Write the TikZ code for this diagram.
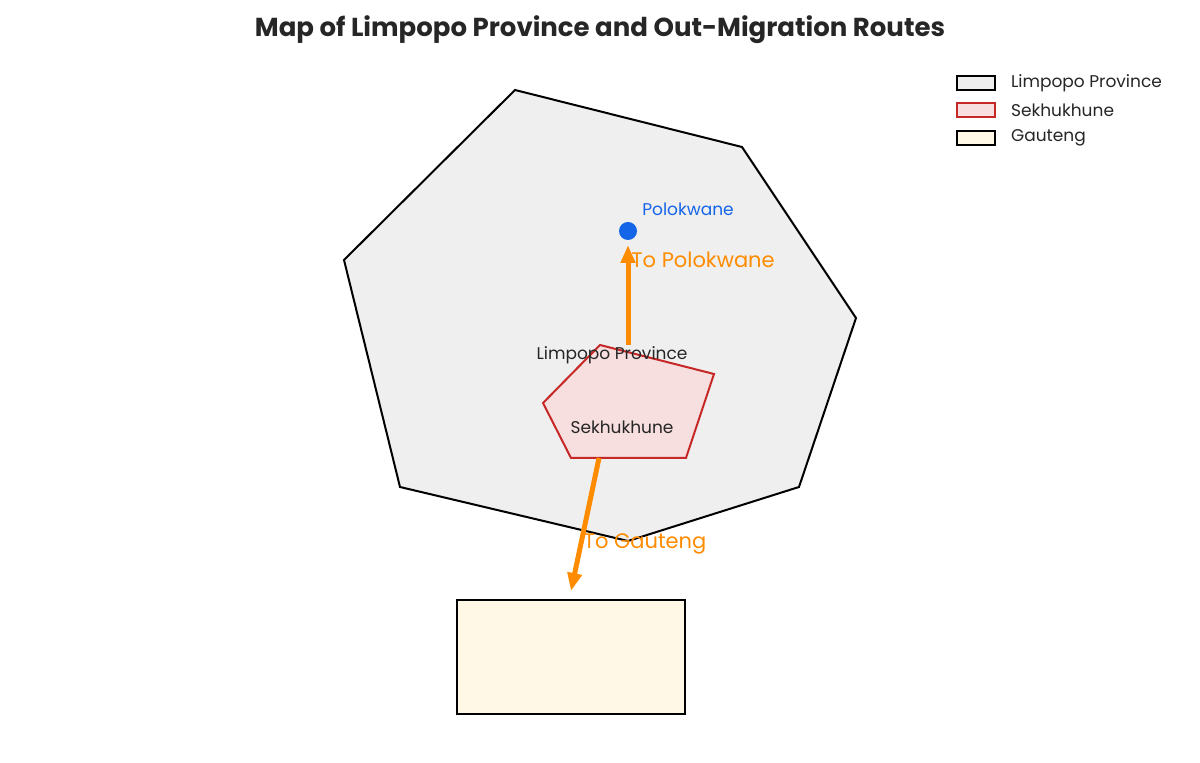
\documentclass[tikz,border=0pt]{standalone}
\usepackage{fontspec}
\setmainfont{Poppins}
\usetikzlibrary{arrows.meta}
\definecolor{prov}{HTML}{EFEFEF}
\definecolor{sek}{HTML}{F7DEDF}
\definecolor{sekline}{HTML}{C62828}
\definecolor{gau}{HTML}{FFF8E6}
\definecolor{orng}{HTML}{FF8C00}
\definecolor{blu}{HTML}{1565E8}
\tikzset{
 route/.style={orng,line width=2.5pt,-{Triangle[length=9pt,width=7pt]}},
 lbl/.style={font=\fontsize{8.5}{10}\selectfont,text=black!85},
 rlbl/.style={font=\fontsize{10.5}{12}\selectfont,text=orng},
 leg/.style={font=\fontsize{8.5}{10}\selectfont,text=black!85,anchor=west}
}
\begin{document}
\begin{tikzpicture}[x=0.5pt,y=-0.5pt]
\useasboundingbox (0,0) rectangle (1200,763);
\node[font=\bfseries\fontsize{13}{15}\selectfont,text=black!85] (title) at (600,30) {Map of Limpopo Province and Out-Migration Routes};
\draw[line width=1pt,fill=prov] (515,90)--(742,147)--(856,318)--(799,487)--(628,541)--(400,487)--(344,260)--cycle;
\draw[line width=1pt,draw=sekline,fill=sek] (600,345)--(714,374)--(686,458)--(571,458)--(543,403)--cycle;
\draw[line width=1pt,fill=gau] (457,600) rectangle (685,714);
\node[lbl] (lp) at (612,355) {Limpopo Province};
\node[lbl] (sk) at (622,427) {Sekhukhune};
\fill[blu] (628,231) circle (4.5pt);
\node[font=\fontsize{8.5}{10}\selectfont,text=blu] (pk) at (688,209) {Polokwane};
\coordinate (a1) at (628,345); \coordinate (b1) at (628,245);
\coordinate (a2) at (599,458); \coordinate (b2) at (571,591);
\draw[route] (a1)--(b1);
\draw[route] (a2)--(b2);
\node[rlbl] (t1) at (703,260) {To Polokwane};
\node[rlbl] (t2) at (645,544) {To Gauteng};
\draw[line width=1pt,fill=prov] (957,76) rectangle (995,90);
\draw[line width=1pt,draw=sekline,fill=sek] (957,103) rectangle (995,117);
\draw[line width=1pt,fill=gau] (957,131) rectangle (995,145);
\node[leg] (l1) at (1004,83) {Limpopo Province};
\node[leg] (l2) at (1004,110) {Sekhukhune};
\node[leg] (l3) at (1004,138) {Gauteng};
\end{tikzpicture}
\end{document}
